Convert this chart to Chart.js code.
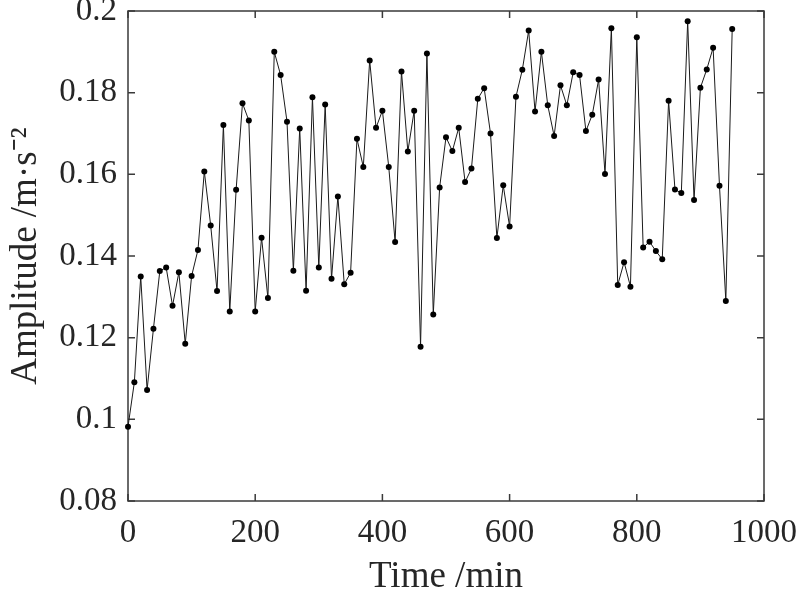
<!DOCTYPE html>
<html>
<head>
<meta charset="utf-8">
<script src="https://cdn.jsdelivr.net/npm/chart.js@4"></script>
<style>
  body { margin: 0; background: #fff; }
  #wrap { width: 800px; height: 592px; position: relative; }
</style>
</head>
<body>
<div id="wrap"><canvas id="ampChart"></canvas></div>
<script>
// time in minutes
const times = [
    0, 10, 20, 30, 40, 50, 60, 70, 80, 90,
    100, 110, 120, 130, 140, 150, 160, 170, 180, 190,
    200, 210, 220, 230, 240, 250, 260, 270, 280, 290,
    300, 310, 320, 330, 340, 350, 360, 370, 380, 390,
    400, 410, 420, 430, 440, 450, 460, 470, 480, 490,
    500, 510, 520, 530, 540, 550, 560, 570, 580, 590,
    600, 610, 620, 630, 640, 650, 660, 670, 680, 690,
    700, 710, 720, 730, 740, 750, 760, 770, 780, 790,
    800, 810, 820, 830, 840, 850, 860, 870, 880, 890,
    900, 910, 920, 930, 940, 950
];

// amplitude in m/s^2
const amplitude = [
    0.0982, 0.1091, 0.1350, 0.1072, 0.1222, 0.1363, 0.1372, 0.1278, 0.1360, 0.1185,
    0.1351, 0.1415, 0.1607, 0.1475, 0.1314, 0.1721, 0.1264, 0.1562, 0.1774, 0.1732,
    0.1264, 0.1445, 0.1297, 0.1900, 0.1843, 0.1729, 0.1364, 0.1712, 0.1315, 0.1789,
    0.1372, 0.1771, 0.1344, 0.1546, 0.1331, 0.1359, 0.1687, 0.1618, 0.1879, 0.1714,
    0.1756, 0.1618, 0.1434, 0.1852, 0.1656, 0.1756, 0.1178, 0.1896, 0.1257, 0.1568,
    0.1691, 0.1657, 0.1714, 0.1581, 0.1614, 0.1785, 0.1811, 0.1700, 0.1444, 0.1573,
    0.1472, 0.1790, 0.1856, 0.1952, 0.1754, 0.1900, 0.1769, 0.1694, 0.1818, 0.1769,
    0.1850, 0.1843, 0.1706, 0.1746, 0.1832, 0.1601, 0.1958, 0.1329, 0.1385, 0.1325,
    0.1936, 0.1421, 0.1435, 0.1412, 0.1392, 0.1780, 0.1563, 0.1554, 0.1975, 0.1537,
    0.1812, 0.1857, 0.1910, 0.1572, 0.1290, 0.1956
];

const xTickLabels = ['0', '200', '400', '600', '800', '1000'];
const yTickLabels = ['0.08', '0.1', '0.12', '0.14', '0.16', '0.18', '0.2'];

const FONT = '"Liberation Serif", "Times New Roman", serif';
const INK = '#262626';

// MATLAB style box with ticks pointing inwards
const boxPlugin = {
    id: 'box',
    beforeDatasetsDraw(chart) {
        const { ctx, chartArea: a, scales: { x, y } } = chart;
        const len = 7;
        ctx.save();
        ctx.strokeStyle = '#3a3a3a';
        ctx.lineWidth = 1.5;
        ctx.strokeRect(a.left, a.top, a.right - a.left, a.bottom - a.top);
        ctx.beginPath();
        x.ticks.forEach(t => {
            const px = x.getPixelForValue(t.value);
            ctx.moveTo(px, a.bottom); ctx.lineTo(px, a.bottom - len);
            ctx.moveTo(px, a.top); ctx.lineTo(px, a.top + len);
        });
        y.ticks.forEach(t => {
            const py = y.getPixelForValue(t.value);
            ctx.moveTo(a.left, py); ctx.lineTo(a.left + len, py);
            ctx.moveTo(a.right, py); ctx.lineTo(a.right - len, py);
        });
        ctx.stroke();
        ctx.restore();
    }
};

const ctx = document.getElementById('ampChart').getContext('2d');
new Chart(ctx, {
    type: 'line',
    data: {
        datasets: [{
            data: times.map((t, i) => ({ x: t, y: amplitude[i] })),
            borderColor: '#1a1a1a',
            borderWidth: 1,
            pointRadius: 3,
            pointBackgroundColor: '#000',
            pointBorderColor: '#000',
            pointBorderWidth: 0,
            tension: 0,
            fill: false,
            clip: false
        }]
    },
    options: {
        responsive: true,
        maintainAspectRatio: false,
        animation: false,
        layout: { padding: { left: 0, right: 36, top: 11, bottom: 0 } },
        plugins: {
            legend: { display: false },
            tooltip: { enabled: false }
        },
        scales: {
            x: {
                type: 'linear',
                min: 0,
                max: 1000,
                grid: { display: false, drawTicks: false },
                border: { display: false },
                ticks: {
                    stepSize: 200,
                    padding: 13,
                    maxRotation: 0,
                    color: INK,
                    font: { family: FONT, size: 33, lineHeight: 1.2 },
                    callback: (value, index) => xTickLabels[index]
                },
                title: {
                    display: true,
                    text: 'Time /min',
                    color: INK,
                    padding: 0,
                    font: { family: FONT, size: 37, lineHeight: 0.8 }
                },
                afterFit: scale => {
                    scale.height = 91;
                    scale.paddingLeft = 0;
                    scale.paddingRight = 0;
                }
            },
            y: {
                min: 0.08,
                max: 0.2,
                grid: { display: false, drawTicks: false },
                border: { display: false },
                ticks: {
                    stepSize: 0.02,
                    padding: 11,
                    color: INK,
                    font: { family: FONT, size: 33, lineHeight: 0.6 },
                    callback: (value, index) => yTickLabels[index]
                },
                title: {
                    display: true,
                    text: 'Amplitude /m\u00B7s\u207B\u00B2',
                    color: INK,
                    padding: { top: 4, bottom: 0 },
                    font: { family: FONT, size: 37, lineHeight: 1.2 }
                },
                afterFit: scale => {
                    scale.width = 128;
                    scale.paddingTop = 0;
                    scale.paddingBottom = 0;
                }
            }
        }
    },
    plugins: [boxPlugin]
});
</script>
</body>
</html>
